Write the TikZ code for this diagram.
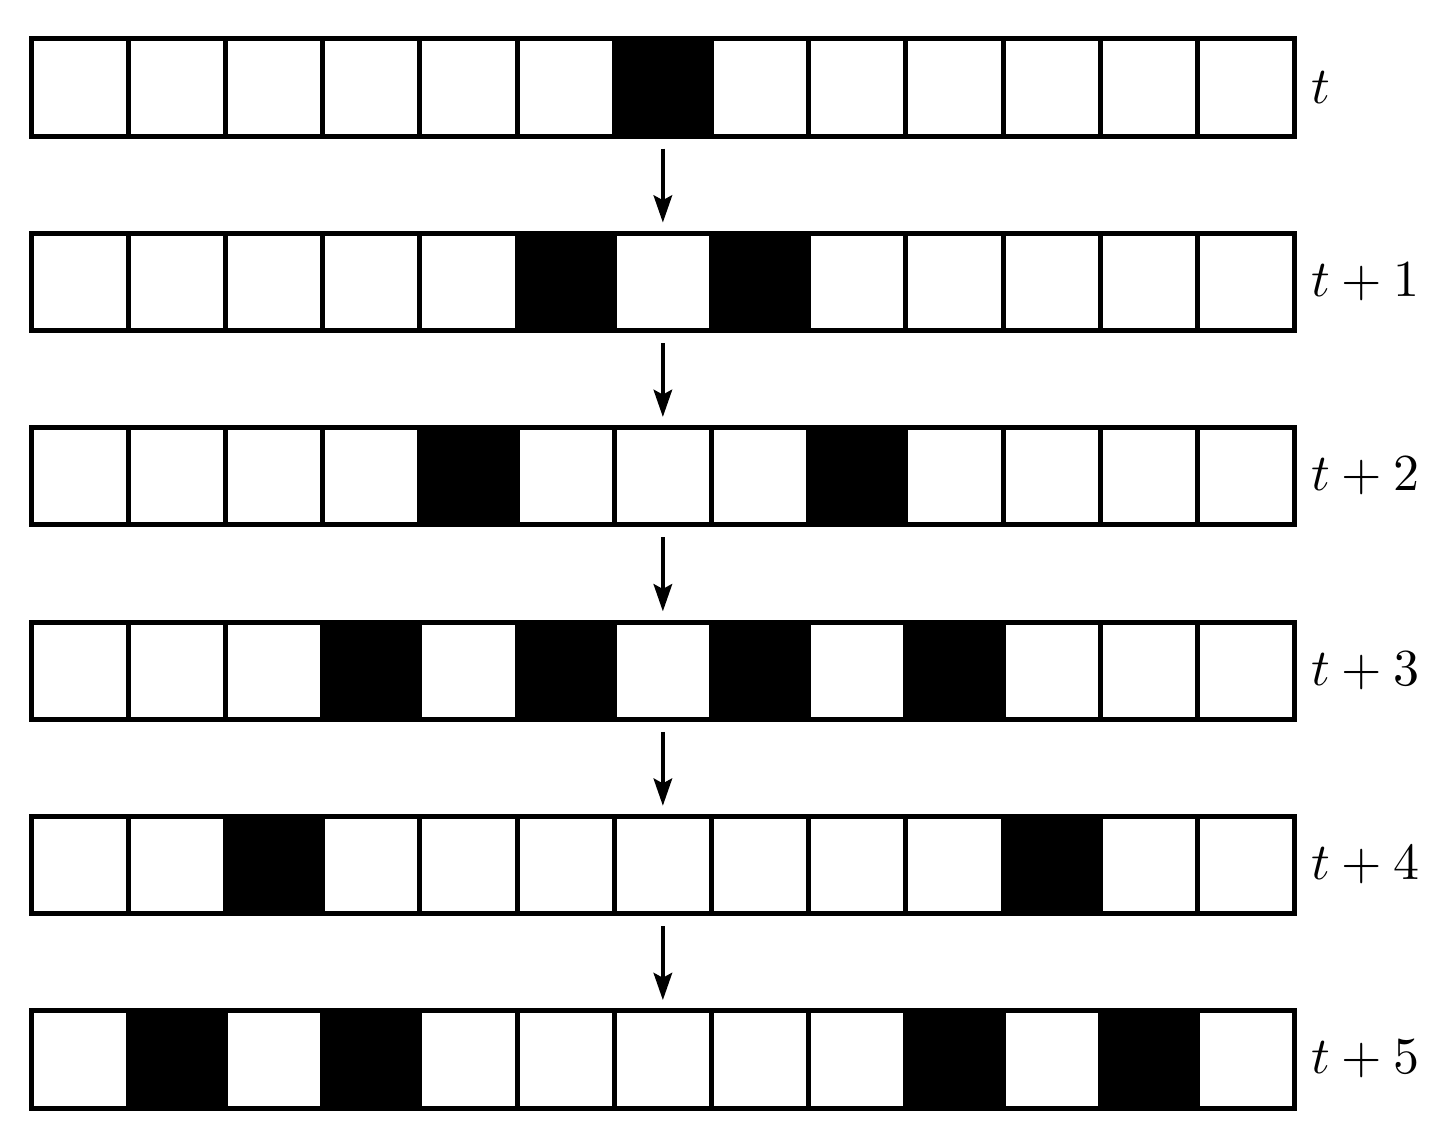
\documentclass[tikz,border=0pt]{standalone}
\usetikzlibrary{arrows.meta}
\begin{document}
\begin{tikzpicture}[x=1cm,y=1cm,
cell/.style={%
draw,
line width=1.45pt,
minimum size=1cm,
inner sep=0pt,
outer sep=0pt,
anchor=north west,
},
c0/.style={fill=white},
c1/.style={fill=black},
tlabel/.style={%
anchor=west,
xshift=-0.02cm,
scale=1.52,
},
arr/.style={%
line width=1.2pt,
-{Stealth[length=0.28cm,width=0.19cm,inset=0.05cm]},
shorten <=0.13cm,
shorten >=0.11cm,
},
]
\useasboundingbox (-0.32,0.40) rectangle (14.65,-11.40);
%% Rows
\foreach \r/\pat/\lab in {%
0/{0,0,0,0,0,0,1,0,0,0,0,0,0}/t,
1/{0,0,0,0,0,1,0,1,0,0,0,0,0}/t+1,
2/{0,0,0,0,1,0,0,0,1,0,0,0,0}/t+2,
3/{0,0,0,1,0,1,0,1,0,1,0,0,0}/t+3,
4/{0,0,1,0,0,0,0,0,0,0,1,0,0}/t+4,
5/{0,1,0,1,0,0,0,0,0,1,0,1,0}/t+5}{%
\foreach \v [count=\c from 0] in \pat{%
\node[cell,c\v] (c\r-\c) at (\c,-2*\r) {};
}
\node[tlabel] (l\r) at (c\r-12.east) {$\lab$};
}
%% Steps
\foreach \r [evaluate=\r as \s using int(\r+1)] in {0,...,4}{%
\draw[arr] (c\r-6.south) -- (c\s-6.north);
}
\end{tikzpicture}
\end{document}
